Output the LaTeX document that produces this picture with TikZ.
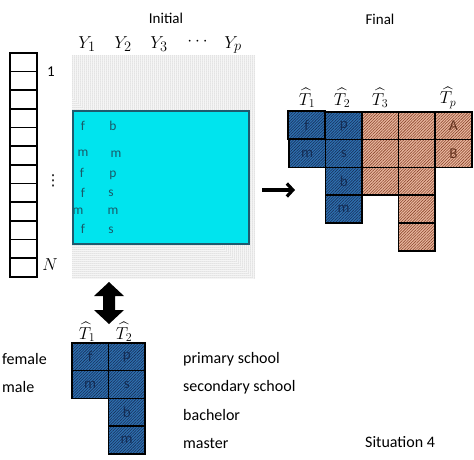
\documentclass[tikz,border=0pt]{standalone}
\usepackage{fontspec}
\setmainfont{Carlito}
\newfontfamily\symfont{DejaVu Sans}
\usepackage{amsmath}
\usetikzlibrary{patterns.meta,arrows.meta}
\definecolor{cellblue}{RGB}{46,112,176}
\definecolor{hatchblue}{RGB}{22,45,85}
\definecolor{textblue}{RGB}{20,45,85}
\definecolor{cellsalmon}{RGB}{232,182,158}
\definecolor{hatchsalmon}{RGB}{135,65,40}
\definecolor{textsalmon}{RGB}{100,50,30}
\definecolor{datacyan}{RGB}{0,228,238}
\definecolor{databorder}{RGB}{30,90,110}
\definecolor{datatext}{RGB}{25,90,105}
\tikzset{
  cell/.style={draw, line width=1.6pt, minimum width=36.6pt, minimum height=27.8pt,
    inner sep=0pt, anchor=north west, font=\fontsize{15}{15}\selectfont},
  bluecell/.style={cell, preaction={fill=cellblue},
    pattern={Lines[angle=45,distance=2pt,line width=0.55pt]}, pattern color=hatchblue, text=textblue},
  salmoncell/.style={cell, preaction={fill=cellsalmon},
    pattern={Lines[angle=45,distance=2pt,line width=0.55pt]}, pattern color=hatchsalmon, text=textsalmon},
  rowbox/.style={draw, line width=1.5pt, minimum width=27pt, minimum height=18.67pt, inner sep=0pt, anchor=north west},
  lbl/.style={font=\fontsize{15}{15}\selectfont, inner sep=0pt},
  mlbl/.style={font=\fontsize{19}{19}\selectfont, inner sep=0pt},
  hlbl/.style={font=\fontsize{18}{18}\selectfont, inner sep=0pt},
  dtxt/.style={font=\fontsize{13.5}{13.5}\selectfont, text=datatext, inner sep=0pt},
}
\begin{document}
\begin{tikzpicture}[x=1pt,y=-1pt]
\useasboundingbox (0,0) rectangle (474,459);
% left column of boxes
\foreach \i in {0,...,11}{
  \node[rowbox] (r\i) at (9,{52+18.67*\i}) {};
}
\node[lbl] (one) at (51,72) {1};
\node[font=\symfont\fontsize{15}{15}\selectfont, inner sep=0pt] (vd) at (53,181) {⋮};
\node[mlbl, font=\fontsize{17}{17}\selectfont] (nn) at (50,265) {$N$};
% titles
\node[lbl] (initial) at (166,18) {Initial};
\node[lbl] (final) at (380,19) {Final};
% Y labels
\node[mlbl] (y1) at (87,44) {$Y_1$};
\node[mlbl] (y2) at (123,44) {$Y_2$};
\node[mlbl] (y3) at (159,44) {$Y_3$};
\node[mlbl] (ydots) at (199,42) {$\cdots$};
\node[mlbl] (yp) at (233,45) {$Y_p$};
% dotted area
\node[anchor=north west, minimum width=183pt, minimum height=223pt, inner sep=0pt,
  pattern={Dots[distance=2pt,radius=0.5pt]}, pattern color=black!48] (dots) at (72,55) {};
% cyan data block
\node[anchor=north west, minimum width=176pt, minimum height=133pt, inner sep=0pt,
  fill=datacyan, draw=databorder, line width=1.5pt] (data) at (72,110) {};
\node[dtxt] (d1a) at (83,126) {f};  \node[dtxt] (d1b) at (113,126) {b};
\node[dtxt] (d2a) at (83,153) {m};  \node[dtxt] (d2b) at (116,154) {m};
\node[dtxt] (d3a) at (82,173) {f};  \node[dtxt] (d3b) at (113,175) {p};
\node[dtxt] (d4a) at (83,193) {f};  \node[dtxt] (d4b) at (111,193) {s};
\node[dtxt] (d5a) at (78,211) {m};  \node[dtxt] (d5b) at (113,211) {m};
\node[dtxt] (d6a) at (83,229) {f};  \node[dtxt] (d6b) at (111,230) {s};
% right arrow
\coordinate (ra) at (262,190);
\coordinate (rb) at (295,190);
\draw[line width=3.2pt, -{Straight Barb[length=6pt,width=13pt,line width=3.2pt]}] (ra) -- (rb);
% final grid
\node[hlbl] (ft1) at (307,98) {$\widehat{T}_1$};
\node[hlbl] (ft2) at (342,98) {$\widehat{T_2}$};
\node[hlbl] (ft3) at (380,98) {$\widehat{T_3}$};
\node[hlbl] (ftp) at (448,98) {$\widehat{T_p}$};
\node[bluecell] (f11) at (288,111) {f};
\node[bluecell] (f21) at (288,138.8) {m};
\node[bluecell] (f12) at (324.6,111) {p};
\node[bluecell] (f22) at (324.6,138.8) {s};
\node[bluecell] (f32) at (324.6,166.6) {b};
\node[bluecell] (f42) at (324.6,194.4) {m};
\node[salmoncell] (f13) at (361.2,111) {};
\node[salmoncell] (f23) at (361.2,138.8) {};
\node[salmoncell] (f33) at (361.2,166.6) {};
\node[salmoncell] (f14) at (397.8,111) {};
\node[salmoncell] (f24) at (397.8,138.8) {};
\node[salmoncell] (f34) at (397.8,166.6) {};
\node[salmoncell] (f44) at (397.8,194.4) {};
\node[salmoncell] (f54) at (397.8,222.2) {};
\node[salmoncell] (f15) at (434.4,111) {A};
\node[salmoncell] (f25) at (434.4,138.8) {B};
% double arrow
\coordinate (dt) at (109,282);
\coordinate (db) at (109,324);
\fill (dt) -- (124,296) -- (115,296) -- (115,310) -- (124,310) -- (db) -- (94,310) -- (103,310) -- (103,296) -- (94,296) -- cycle;
% bottom grid
\node[hlbl] (bt1) at (87,332) {$\widehat{T}_1$};
\node[hlbl] (bt2) at (124,332) {$\widehat{T_2}$};
\node[bluecell] (b11) at (71,342) {f};
\node[bluecell] (b21) at (71,369.8) {m};
\node[bluecell] (b12) at (107.6,342) {p};
\node[bluecell] (b22) at (107.6,369.8) {s};
\node[bluecell] (b32) at (107.6,397.6) {b};
\node[bluecell] (b42) at (107.6,425.4) {m};
% labels
\tikzset{side/.style={font=\fontsize{16}{16}\selectfont, anchor=west, inner sep=0pt}}
\node[side] (female) at (2,359) {female};
\node[side] (male) at (2,387) {male};
\node[side] (ps) at (183,359) {primary school};
\node[side] (ss) at (183,387) {secondary school};
\node[side] (ba) at (183,415) {bachelor};
\node[side] (ma) at (183,443) {master};
\node[side] (sit) at (365,442) {Situation 4};
\end{tikzpicture}
\end{document}
